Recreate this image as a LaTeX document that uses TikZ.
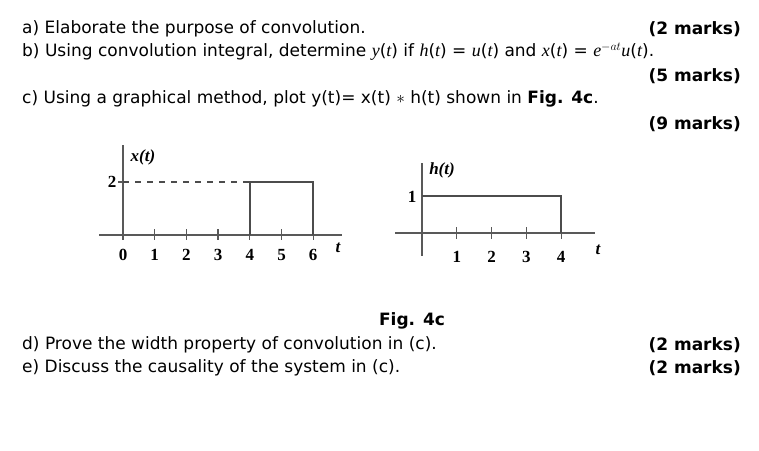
\documentclass[tikz,border=0pt]{standalone}
\usepackage{fontspec}
\setmainfont{DejaVu Sans}
\newfontfamily\tms{Liberation Serif}
\newcommand{\mi}[1]{{\tms\itshape\fontsize{18}{19}\selectfont #1}}
\begin{document}
\begin{tikzpicture}[x=1pt,y=-1pt,
  txt/.style={anchor=west,inner sep=0pt,font=\fontsize{17}{19}\selectfont},
  mk/.style={anchor=east,inner sep=0pt,font=\fontsize{17}{19}\selectfont\bfseries},
  ax/.style={line width=1.3pt,gray!70!black},
  sig/.style={line width=1.4pt,gray!60!black},
  lab/.style={inner sep=0pt,font=\tms\bfseries\fontsize{17}{18}\selectfont},
  ilab/.style={inner sep=0pt,font=\tms\bfseries\itshape\fontsize{17}{18}\selectfont}]
\useasboundingbox (0,0) rectangle (759,450);
\fill[white] (0,0) rectangle (759,450);
\node[txt] (a) at (22,29) {a) Elaborate the purpose of convolution.};
\node[mk] (am) at (741,29) {(2 marks)};
\node[txt] (b) at (22,52) {b) Using convolution integral, determine \mi{y}(\mi{t}) if \mi{h}(\mi{t}) = \mi{u}(\mi{t}) and \mi{x}(\mi{t}) = \mi{e}$^{-at}$\mi{u}(\mi{t}).};
\node[mk] (bm) at (741,76) {(5 marks)};
\node[txt] (c) at (22,99) {c) Using a graphical method, plot y(t)= x(t) $*$ h(t) shown in \textbf{Fig. 4c}.};
\node[mk] (cm) at (741,124) {(9 marks)};
% x(t)
\draw[ax] (99,235) -- (342,235);
\draw[ax] (123,145) -- (123,240);
\foreach \i in {1,...,6} \draw[ax] (123+31.7*\i,229) -- (123+31.7*\i,240);
\foreach \i in {0,...,6} \node[lab] at (123+31.7*\i,255) {\i};
\node[ilab] (tx) at (338,248) {t};
\node[ilab] (xl) at (143,157) {x(t)};
\node[lab] (x2) at (112,182) {2};
\draw[ax] (118,182) -- (123,182);
\draw[sig,dash pattern=on 6pt off 6pt] (123,182) -- (250,182);
\draw[sig] (249.8,235) -- (249.8,182) -- (313,182) -- (313,235);
% h(t)
\draw[ax] (395,233) -- (595,233);
\draw[ax] (422,163) -- (422,256);
\foreach \i in {1,...,4} \draw[ax] (422+34.8*\i,227) -- (422+34.8*\i,239);
\foreach \i in {1,...,4} \node[lab] at (422+34.8*\i,257) {\i};
\node[ilab] (th) at (598,250) {t};
\node[ilab] (hl) at (442,170) {h(t)};
\node[lab] (h1) at (412,197) {1};
\draw[sig] (422,196) -- (561,196) -- (561,233);
\node[inner sep=0pt,font=\fontsize{17}{19}\selectfont\bfseries] (fig) at (412,321) {Fig. 4c};
\node[txt] (d) at (22,345) {d) Prove the width property of convolution in (c).};
\node[mk] (dm) at (741,345) {(2 marks)};
\node[txt] (e) at (22,368) {e) Discuss the causality of the system in (c).};
\node[mk] (em) at (741,368) {(2 marks)};
\end{tikzpicture}
\end{document}
